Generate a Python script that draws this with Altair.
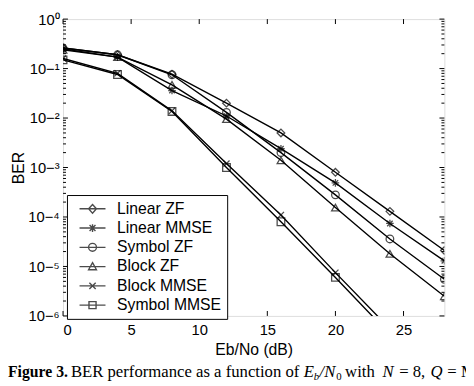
import altair as alt
import pandas as pd

snr = [0, 4, 8, 12, 16, 20, 24, 28]
series_names = ["Linear ZF", "Linear MMSE", "Symbol ZF", "Block ZF", "Block MMSE", "Symbol MMSE"]
linear_zf = [0.26, 0.19, 0.077, 0.020, 0.0050, 8.0e-4, 1.3e-4, 2.1e-5]
linear_mmse = [0.25, 0.17, 0.036, 0.011, 0.0024, 4.9e-4, 7.4e-5, 1.3e-5]
symbol_zf = [0.26, 0.19, 0.075, 0.013, 0.0020, 2.8e-4, 3.6e-5, 5.5e-6]
block_zf = [0.24, 0.17, 0.047, 0.0095, 0.0014, 1.55e-4, 1.8e-5, 2.5e-6]
block_mmse = [0.16, 0.080, 0.0140, 1.2e-3, 1.1e-4, 7.5e-6, 5.5e-7]
symbol_mmse = [0.15, 0.076, 0.0136, 1.0e-3, 8.0e-5, 6.0e-6, 4.2e-7]

x_ticks = [0, 5, 10, 15, 20, 25]
y_major = [1e0, 1e-1, 1e-2, 1e-3, 1e-4, 1e-5, 1e-6]

all_series = [linear_zf, linear_mmse, symbol_zf, block_zf, block_mmse, symbol_mmse]
rows = []
for name, vals in zip(series_names, all_series):
    for x, v in zip(snr, vals):
        rows.append({"series": name, "snr": x, "ber": v})
df = pd.DataFrame(rows)

W, H = 388, 302

plot_shapes = [
    "diamond",
    "M0,-1L0,1M-1,0L1,0M-0.72,-0.72L0.72,0.72M-0.72,0.72L0.72,-0.72",
    "circle",
    "triangle-up",
    "M-0.8,-0.8L0.8,0.8M-0.8,0.8L0.8,-0.8",
    "square",
]
L = "M-3.3,0L3.3,0"
legend_shapes = [
    L + "M0,-1.1L1,0L0,1.1L-1,0Z",
    L + "M0,-1L0,1M-0.75,-0.75L0.75,0.75M-0.75,0.75L0.75,-0.75",
    L + "M1,0A1,1,0,1,1,-1,0A1,1,0,1,1,1,0",
    L + "M0,-1L1,0.8L-1,0.8Z",
    L + "M-0.8,-0.8L0.8,0.8M-0.8,0.8L0.8,-0.8",
    L + "M-0.9,-0.9L0.9,-0.9L0.9,0.9L-0.9,0.9Z",
]

xscale = alt.Scale(domain=[0, 28], nice=False, zero=False)
yscale = alt.Scale(type="log", domain=[1e-6, 1], nice=False)

label_expr = ("'10' + replace(replace(replace(replace(replace(replace(replace(replace("
              "format(log(datum.value)/log(10), 'd'), '-', '⁻'), '0', '⁰'), '1', '¹'), '2', '²'),"
              " '3', '³'), '4', '⁴'), '5', '⁵'), '6', '⁶')")

xaxis = alt.Axis(values=x_ticks, ticks=False, domain=False, grid=False, labelFontSize=15,
                 labelFont="Liberation Sans", labelPadding=7, title="Eb/No (dB)",
                 titleFont="Liberation Sans", titleFontSize=16, titleFontWeight="normal",
                 titlePadding=4, labelColor="black", titleColor="black")
yaxis = alt.Axis(values=y_major, ticks=False, domain=False, grid=False, labelFontSize=15,
                 labelFont="Liberation Sans", labelPadding=4, labelExpr=label_expr,
                 title="BER", titleFont="Liberation Sans", titleFontSize=16,
                 titleFontWeight="normal", titlePadding=1, labelColor="black",
                 titleColor="black")

base = alt.Chart(df)
lines = base.mark_line(color="black", strokeWidth=1.4, clip=True).encode(
    x=alt.X("snr:Q", scale=xscale, axis=xaxis),
    y=alt.Y("ber:Q", scale=yscale, axis=yaxis),
    detail="series:N",
)
points = base.mark_point(filled=False, color="black", size=60, strokeWidth=1.3, clip=True).encode(
    x=alt.X("snr:Q", scale=xscale),
    y=alt.Y("ber:Q", scale=yscale),
    shape=alt.Shape("series:N", scale=alt.Scale(domain=series_names, range=plot_shapes), legend=None),
)
legend_layer = base.transform_filter("datum.snr < -100").mark_point(
    filled=False, color="black", size=60, strokeWidth=1.3
).encode(
    x=alt.X("snr:Q", scale=xscale),
    y=alt.Y("ber:Q", scale=yscale),
    shape=alt.Shape(
        "series:N",
        scale=alt.Scale(domain=series_names, range=legend_shapes),
        legend=alt.Legend(
            title=None, orient="none", legendX=4, legendY=179,
            strokeColor="black", fillColor="white", padding=6,
            symbolSize=64, symbolStrokeColor="black", symbolFillColor="transparent",
            symbolStrokeWidth=1.4, symbolOffset=12, labelOffset=17,
            labelFont="Liberation Sans", labelFontSize=16, labelColor="black",
            rowPadding=3.6, labelLimit=300,
        ),
    ),
)

# inward ticks
xt = pd.DataFrame({"t": x_ticks})
yt = pd.DataFrame({"t": y_major})
minor_vals = [m * 10.0 ** e for e in range(-6, 0) for m in range(2, 10)]
ym = pd.DataFrame({"t": minor_vals})

tick_bottom = alt.Chart(xt).mark_rule(color="black", strokeWidth=1).encode(
    x=alt.X("t:Q", scale=xscale), y=alt.value(H - 5), y2=alt.value(H))
tick_top = alt.Chart(xt).mark_rule(color="black", strokeWidth=1).encode(
    x=alt.X("t:Q", scale=xscale), y=alt.value(0), y2=alt.value(5))
tick_left = alt.Chart(yt).mark_rule(color="black", strokeWidth=1).encode(
    y=alt.Y("t:Q", scale=yscale), x=alt.value(0), x2=alt.value(5))
tick_right = alt.Chart(yt).mark_rule(color="black", strokeWidth=1).encode(
    y=alt.Y("t:Q", scale=yscale), x=alt.value(W - 5), x2=alt.value(W))
mtick_left = alt.Chart(ym).mark_rule(color="black", strokeWidth=1).encode(
    y=alt.Y("t:Q", scale=yscale), x=alt.value(0), x2=alt.value(3))
mtick_right = alt.Chart(ym).mark_rule(color="black", strokeWidth=1).encode(
    y=alt.Y("t:Q", scale=yscale), x=alt.value(W - 3), x2=alt.value(W))

# caption pieces
cap_font = "Liberation Serif"
cap_y = 364
pieces = [
    ("Figure 3.", -56, 0, "bold", "normal", 16),
    ("BER performance as a function of", 8, 0, "normal", "normal", 17),
    ("E", 245, 0, "normal", "italic", 17),
    ("b", 255, 3, "normal", "italic", 11),
    ("/N", 261, 0, "normal", "italic", 17),
    ("0", 278, 3, "normal", "normal", 11),
    ("with", 287, 0, "normal", "normal", 17),
    ("N", 325, 0, "normal", "italic", 17),
    ("= 8,", 342, 0, "normal", "normal", 17),
    ("Q", 374, 0, "normal", "italic", 17),
    ("= M", 391, 0, "normal", "normal", 17),
]
caption_layers = []
for txt, px, dy, wt, st, fs in pieces:
    caption_layers.append(
        alt.Chart(pd.DataFrame({"t": [txt]})).mark_text(
            align="left", baseline="alphabetic", font=cap_font, fontSize=fs,
            fontWeight=wt, fontStyle=st, color="black", dy=dy,
        ).encode(x=alt.value(px), y=alt.value(cap_y), text="t:N")
    )

chart = alt.layer(
    lines, points, legend_layer, tick_bottom, tick_top, tick_left, tick_right,
    mtick_left, mtick_right, *caption_layers
).resolve_scale(shape="independent").properties(
    width=W, height=H,
    autosize=alt.AutoSizeParams(type="none"),
    padding={"left": 56, "top": 8, "right": 22, "bottom": 68},
).configure_view(stroke="black", strokeWidth=1.2).configure(background="white")

chart.save("out.html", embed_options={"renderer": "svg", "actions": False})
